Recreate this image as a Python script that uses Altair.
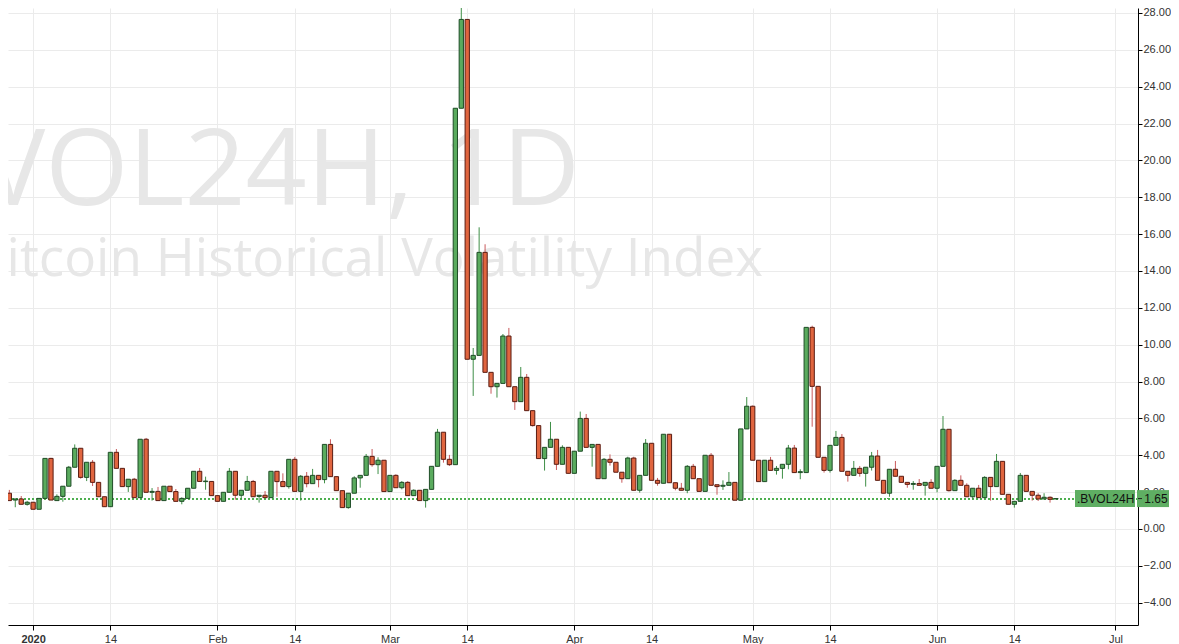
import altair as alt
import pandas as pd

# Daily candles, first = 2019-12-27 (day -5 relative to 2020-01-01)
first_day = -5
open_ = [2.26,1.94,1.57,1.63,1.34,1.45,1.07,1.66,3.83,1.54,1.77,2.32,3.35,4.38,2.80,3.62,2.53,1.75,1.21,4.16,
         3.29,2.30,2.70,1.70,4.87,1.99,2.04,1.54,2.32,2.03,1.50,1.66,2.21,3.13,2.57,2.58,1.81,1.50,1.99,3.13,
         1.83,2.10,2.58,1.77,1.83,1.70,3.13,2.57,2.30,3.78,2.04,2.86,2.46,2.91,2.68,4.59,2.84,2.08,1.16,1.94,
         2.77,2.91,3.94,3.49,3.73,2.03,2.91,2.24,2.53,1.81,2.10,1.54,2.15,3.40,5.25,3.78,3.49,22.83,27.65,9.21,
         9.42,15.01,8.50,7.72,7.90,10.47,7.72,6.91,8.23,6.42,5.61,3.82,4.43,4.87,3.51,4.43,3.02,4.22,6.00,4.43,
         4.59,2.73,3.78,3.62,3.08,2.73,3.85,2.10,2.91,4.65,2.64,2.48,5.14,2.51,2.21,2.10,3.40,2.73,2.04,4.00,
         2.40,2.32,2.37,2.53,1.56,5.43,6.66,3.73,2.57,3.73,3.18,3.29,3.51,4.39,3.06,3.06,10.94,7.74,3.89,3.18,
         4.54,4.97,3.13,2.91,3.29,3.02,3.35,3.96,2.64,1.94,3.24,2.86,2.53,2.42,2.47,2.37,2.53,2.21,3.40,5.41,
         2.08,2.64,2.37,1.75,2.21,1.70,2.80,2.30,3.67,1.88,1.34,1.50,2.91,2.04,1.83,1.63,1.72,1.63]
high = [2.30,2.12,1.63,1.79,1.52,1.45,1.66,3.83,3.86,1.88,2.32,3.42,4.59,4.38,3.62,3.74,2.53,1.75,4.16,4.34,
        3.29,2.70,2.77,4.87,4.94,2.22,2.28,2.32,2.32,2.17,1.72,2.21,3.13,3.31,2.84,2.58,1.81,1.99,3.31,3.13,
        2.10,2.88,2.66,1.83,2.06,3.13,3.13,3.02,3.78,3.91,2.93,3.09,3.26,2.91,4.59,4.87,2.84,2.08,1.94,2.86,
        2.91,4.07,4.34,3.89,3.73,2.91,2.97,2.60,2.60,2.15,2.10,2.15,3.40,5.43,5.25,4.02,22.83,29.00,27.65,9.82,
        16.37,15.45,8.50,7.90,10.58,10.91,7.72,8.79,8.41,6.42,5.61,4.43,5.81,4.87,4.54,4.43,4.22,6.37,6.24,4.59,
        4.59,3.85,4.05,3.62,3.08,3.92,3.92,2.91,4.88,4.65,2.77,5.14,5.14,2.51,2.50,3.47,3.53,2.73,4.00,4.12,
        2.40,2.64,3.09,2.53,5.43,7.16,6.70,3.73,3.73,3.91,3.42,3.51,4.56,4.56,3.24,10.94,11.03,7.74,3.89,4.54,
        5.32,5.15,3.13,3.69,3.42,3.35,4.18,4.29,2.64,3.24,3.69,2.86,2.53,2.60,2.71,2.53,2.70,3.40,6.13,5.41,
        2.70,2.91,2.48,2.21,2.39,2.86,2.80,4.07,3.67,1.88,1.50,3.04,2.91,2.04,1.94,1.94,1.77,1.65]
low = [1.94,1.54,1.18,1.34,1.27,1.07,1.07,1.66,1.57,1.54,1.48,2.32,3.35,2.73,2.60,2.33,1.75,1.21,1.21,3.29,
       2.30,2.01,1.70,1.70,1.99,1.54,1.54,1.54,2.03,1.50,1.34,1.66,2.21,2.58,2.13,1.81,1.50,1.50,1.99,1.59,
       1.59,2.10,1.75,1.43,1.70,1.70,1.75,2.30,2.19,2.04,1.54,2.26,2.46,2.26,2.48,2.84,2.08,1.16,1.10,1.94,
       2.24,2.91,3.38,2.98,2.03,2.03,2.24,2.15,1.81,1.81,1.54,1.16,2.15,3.40,3.60,3.42,3.49,22.83,9.21,7.22,
       9.42,8.50,7.34,7.13,7.90,7.72,6.46,6.91,6.42,5.56,3.82,3.17,4.43,3.20,3.51,3.02,3.02,4.22,4.43,3.38,
       2.73,2.73,3.44,3.08,2.51,2.73,2.10,1.97,2.91,2.64,2.35,2.48,2.51,2.10,2.10,1.94,2.73,2.04,2.04,2.37,
       1.86,2.12,2.37,1.56,1.56,5.43,3.73,2.57,2.57,3.18,2.95,2.73,3.24,3.06,2.70,3.06,5.55,3.89,3.06,3.06,
       4.54,3.13,2.57,2.91,2.84,2.30,3.17,2.64,1.94,1.75,2.86,2.53,2.24,2.13,2.37,1.81,2.21,1.99,3.40,2.03,
       2.08,2.37,1.75,1.61,1.70,1.70,1.54,2.30,1.88,1.34,1.16,1.50,2.04,1.54,1.52,1.63,1.43,1.63]
close = [1.94,1.54,1.63,1.34,1.45,1.07,1.66,3.83,1.57,1.77,2.32,3.35,4.38,2.80,3.62,2.53,1.75,1.21,4.16,3.29,
         2.30,2.70,1.70,4.87,1.99,2.04,1.54,2.32,2.03,1.50,1.66,2.21,3.13,2.58,2.60,1.81,1.50,1.99,3.13,1.83,
         2.10,2.58,1.75,1.83,1.70,3.13,2.57,2.30,3.78,2.04,2.86,2.46,2.91,2.68,4.59,2.84,2.08,1.16,1.94,2.77,
         2.91,3.94,3.49,3.73,2.03,2.91,2.24,2.53,1.81,2.10,1.54,2.15,3.40,5.25,3.78,3.49,22.83,27.65,9.21,9.42,
         15.01,8.50,7.72,7.90,10.47,7.72,6.91,8.23,6.42,5.61,3.82,4.43,4.87,3.51,4.43,3.02,4.22,6.00,4.43,4.59,
         2.73,3.78,3.62,3.08,2.73,3.85,2.10,2.91,4.65,2.64,2.48,5.14,2.51,2.21,2.10,3.40,2.73,2.04,4.00,2.37,
         2.30,2.37,2.53,1.56,5.43,6.66,3.73,2.57,3.73,3.18,3.29,3.51,4.39,3.06,3.11,10.94,7.74,3.89,3.18,4.54,
         4.97,3.13,2.91,3.29,3.02,3.35,3.96,2.64,1.94,3.24,2.86,2.53,2.42,2.47,2.37,2.53,2.21,3.40,5.41,2.08,
         2.64,2.37,1.75,2.21,1.70,2.80,2.30,3.67,1.88,1.34,1.50,2.91,2.04,1.83,1.63,1.72,1.61,1.65]

last_value = 1.65
symbol = ".BVOL24H"
title_big = "BVOL24H, 1D"
title_small = "Bitcoin Historical Volatility Index"

tick_days = [0, 13, 31, 44, 60, 73, 91, 104, 121, 134, 152, 165, 182]
tick_labels = ["2020", "14", "Feb", "14", "Mar", "14", "Apr", "14", "May", "14", "Jun", "14", "Jul"]
y_ticks = list(range(-4, 29, 2))

df = pd.DataFrame({
    "day": list(range(first_day, first_day + len(close))),
    "open": open_, "high": high, "low": low, "close": close,
})

W, H = 1130, 617
GREEN_FILL, GREEN_EDGE, GREEN_WICK = "#5aab5e", "#1f4d27", "#3f8f47"
RED_FILL, RED_EDGE, RED_WICK = "#e0653f", "#5a1c12", "#c85a5c"
FONT = "Liberation Sans"

label_arr = "[" + ",".join("'%s'" % t for t in tick_labels) + "]"
day_arr = "[" + ",".join(str(t) for t in tick_days) + "]"

x_scale = alt.Scale(domain=[-3.383, 184.95], nice=False, zero=False)
y_scale = alt.Scale(domain=[-5.21, 28.27], nice=False, zero=False)

x_axis = alt.Axis(values=tick_days, labelExpr=f"{label_arr}[indexof({day_arr}, datum.value)]",
                  grid=True, gridColor="#ebebeb", domainColor="#000", tickColor="#000",
                  tickSize=5, labelFont=FONT, labelFontSize=11, labelColor="#333",
                  labelPadding=3, title=None, labelFlush=False,
                  labelFontWeight={"condition": {"test": "datum.value === 0", "value": "bold"}, "value": "normal"})
y_axis = alt.Axis(values=y_ticks, format=".2f", orient="right", grid=True, gridColor="#ebebeb",
                  domainColor="#000", tickColor="#000", tickSize=4, labelFont=FONT, labelFontSize=11,
                  labelColor="#333", labelPadding=1, title=None, labelFlush=False)

X = alt.X("day:Q", scale=x_scale, axis=x_axis)

base = alt.Chart(df)

wm_big = base.mark_text(text=title_big, font="Open Sans", fontSize=107, color="#e7e7e7",
                        align="right", baseline="alphabetic", clip=True).encode(
    x=alt.value(572), y=alt.value(197)).transform_filter("datum.day === 0")
wm_small = base.mark_text(text=title_small, font="Open Sans", fontSize=53, color="#e7e7e7",
                          align="right", baseline="alphabetic", clip=True).encode(
    x=alt.value(755), y=alt.value(268)).transform_filter("datum.day === 0")

last_line = base.mark_rule(color="#4caf50", strokeDash=[2, 2], strokeWidth=1, clip=True).encode(
    y=alt.datum(last_value, scale=y_scale, axis=y_axis))

up = "datum.close >= datum.open"
wicks = base.mark_rule(strokeWidth=1, clip=True).encode(
    x=X,
    y=alt.Y("low:Q", scale=y_scale, axis=y_axis),
    y2="high:Q",
    color=alt.condition(up, alt.value(GREEN_WICK), alt.value(RED_WICK)),
)
bodies = base.mark_bar(size=4.3, strokeWidth=1, clip=True).encode(
    x=X,
    y=alt.Y("open:Q", scale=y_scale, axis=y_axis),
    y2="close:Q",
    fill=alt.condition(up, alt.value(GREEN_FILL), alt.value(RED_FILL)),
    stroke=alt.condition(up, alt.value(GREEN_EDGE), alt.value(RED_EDGE)),
)

lbl = pd.DataFrame({"v": [last_value]})
lb = alt.Chart(lbl)
box1 = lb.mark_rule(color="#5fae63", strokeWidth=17).encode(
    x=alt.value(1067), x2=alt.value(1127), y=alt.Y("v:Q", scale=y_scale, axis=y_axis))
box2 = lb.mark_rule(color="#5fae63", strokeWidth=17).encode(
    x=alt.value(1129), x2=alt.value(1161), y=alt.Y("v:Q", scale=y_scale, axis=y_axis))
tick = lb.mark_rule(color="#222", strokeWidth=1).encode(
    x=alt.value(1130), x2=alt.value(1134), y=alt.Y("v:Q", scale=y_scale, axis=y_axis))
txt1 = lb.mark_text(text=symbol, font=FONT, fontSize=12, color="#111", align="left",
                    baseline="middle").encode(
    x=alt.value(1069), y=alt.Y("v:Q", scale=y_scale, axis=y_axis))
txt2 = lb.mark_text(font=FONT, fontSize=12, color="#111", align="center",
                    baseline="middle").encode(
    x=alt.value(1148), y=alt.Y("v:Q", scale=y_scale, axis=y_axis),
    text=alt.Text("v:Q", format=".2f"))

chart = alt.layer(wm_big, wm_small, last_line, wicks, bodies, box1, box2, tick, txt1, txt2).properties(
    width=W, height=H,
    autosize=alt.AutoSizeParams(type="none"),
    padding={"left": 0, "top": 0, "right": 33, "bottom": 20},
    background="white",
).configure_view(strokeWidth=0)

chart.save("out.html", embed_options={"renderer": "svg", "actions": False})
